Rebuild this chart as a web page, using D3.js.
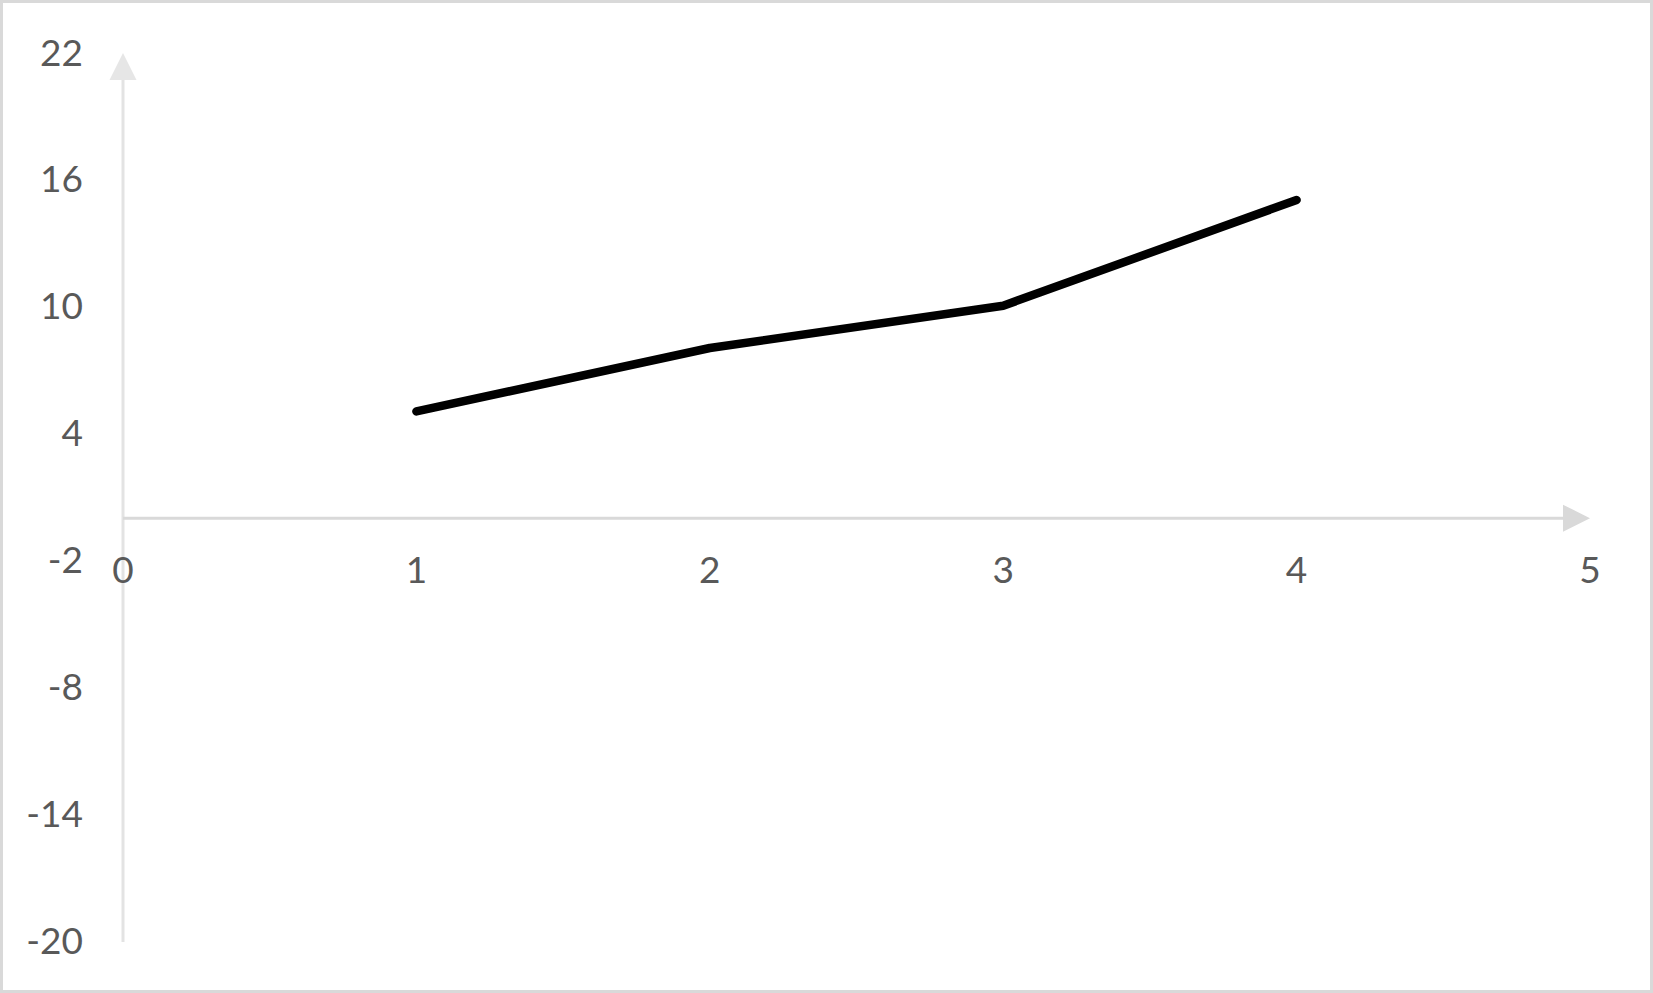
<!DOCTYPE html>
<html><head><meta charset="utf-8">
<script src="https://cdn.jsdelivr.net/npm/d3@7"></script>
<style>html,body{margin:0;padding:0;background:#fff;}svg{display:block;}</style>
</head><body>
<svg id="chart" width="1653" height="993"></svg>
<script>
const xValues = [1, 2, 3, 4];
const yValues = [5, 8, 10, 15];
const xTicks = [0, 1, 2, 3, 4, 5];
const yTicks = [22, 16, 10, 4, -2, -8, -14, -20];

const svg = d3.select("#chart");
const W = 1653, H = 993;
svg.append("rect").attr("x",1.5).attr("y",1.5).attr("width",W-3).attr("height",H-3)
  .attr("fill","#fff").attr("stroke","#d9d9d9").attr("stroke-width",3);

const x = d3.scaleLinear().domain([0,5]).range([123,1590]);
const y = d3.scaleLinear().domain([-20,22]).range([940,52]);
const font = "Lato, 'Open Sans', sans-serif";

// y axis line
svg.append("line").attr("x1",x(0)).attr("x2",x(0)).attr("y1",y(-20)+2).attr("y2",y(22)+27)
  .attr("stroke","#e3e3e3").attr("stroke-width",3);
svg.append("path").attr("d",`M${x(0)},${y(22)+1} L${x(0)-13.5},${y(22)+28} L${x(0)+13.5},${y(22)+28} Z`)
  .attr("fill","#e6e6e6");

// x axis line
svg.append("line").attr("x1",x(0)).attr("x2",x(5)-27).attr("y1",y(0)+1).attr("y2",y(0)+1)
  .attr("stroke","#d9d9d9").attr("stroke-width",3);
svg.append("path").attr("d",`M${x(5)},${y(0)+1} L${x(5)-27},${y(0)-12.5} L${x(5)-27},${y(0)+14.5} Z`)
  .attr("fill","#d9d9d9");

// y labels
svg.append("g").selectAll("text").data(yTicks).join("text")
  .attr("x",83).attr("y",d=>y(d)-1).attr("text-anchor","end").attr("dominant-baseline","central")
  .attr("font-family",font).attr("font-size",37).attr("fill","#595959").text(d=>d);

// x labels
svg.append("g").selectAll("text").data(xTicks).join("text")
  .attr("x",d=>x(d)).attr("y",y(0)+51).attr("text-anchor","middle").attr("dominant-baseline","central")
  .attr("font-family",font).attr("font-size",37).attr("fill","#595959").text(d=>d);

// series line
const line = d3.line().x((d,i)=>x(xValues[i])).y(d=>y(d));
svg.append("path").datum(yValues).attr("d",line).attr("fill","none")
  .attr("stroke","#000").attr("stroke-width",8.5).attr("stroke-linecap","round").attr("stroke-linejoin","round");
</script>
</body></html>
